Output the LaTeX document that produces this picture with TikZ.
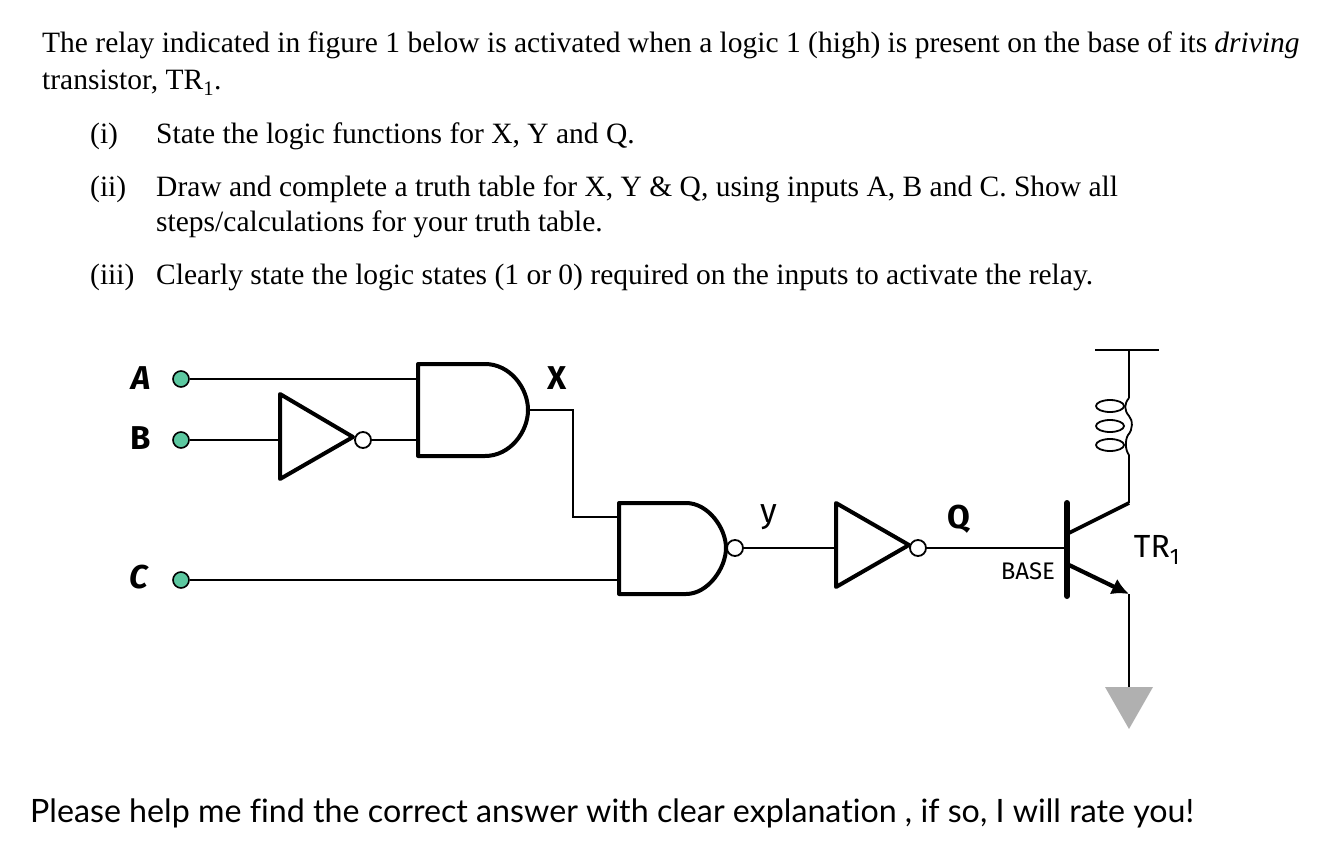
\documentclass[tikz,border=0pt]{standalone}
\usepackage{fontspec}
\setmainfont{Liberation Serif}
\newfontfamily\labelfont{Fira Sans}
\newfontfamily\askfont[Ligatures=NoCommon]{Lato}
\usetikzlibrary{arrows.meta}
\tikzset{
  para/.style={anchor=base west, inner sep=0pt, font=\fontsize{29.5}{31}\selectfont},
  ask/.style={anchor=base west, inner sep=0pt, font=\askfont\fontsize{32.2}{34}\selectfont},
  sig/.style={inner sep=0pt, font=\labelfont\bfseries\fontsize{33}{35}\selectfont},
  term/.style={circle, draw, line width=1.6pt, fill=termgreen, minimum size=16pt, inner sep=0pt},
  bubble/.style={circle, draw, line width=1.8pt, fill=white, minimum size=16pt, inner sep=0pt},
  wire/.style={line width=1.9pt},
  gate/.style={line width=4pt, line join=round}
}
\definecolor{termgreen}{HTML}{5CC8A0}
\definecolor{gndgrey}{HTML}{B0B0B0}
\begin{document}
\begin{tikzpicture}[x=1pt,y=-1pt]
\useasboundingbox (0,0) rectangle (1336,864);
% question text
\node[para] (l1) at (42,53) {The relay indicated in figure 1 below is activated when a logic 1 (high) is present on the base of its \emph{driving}};
\node[para] (l2) at (42,90) {transistor, TR\textsubscript{1}.};
\node[para] (n1) at (90,143) {(i)};
\node[para] (q1) at (156,143) {State the logic functions for X, Y and Q.};
\node[para] (n2) at (90,196) {(ii)};
\node[para] (q2a) at (156,196) {Draw and complete a truth table for X, Y \& Q, using inputs A, B and C. Show all};
\node[para] (q2b) at (156,231) {steps/calculations for your truth table.};
\node[para] (n3) at (90,284) {(iii)};
\node[para] (q3) at (156,284) {Clearly state the logic states (1 or 0) required on the inputs to activate the relay.};
\node[ask] (plea) at (30,822) {Please help me find the correct answer with clear explanation , if so, I will rate you!};
% inputs
\node[term] (tA) at (181,379) {};
\node[term] (tB) at (181,440) {};
\node[term] (tC) at (181,580) {};
\node[sig] (lA) at (141,378) {\itshape A};
\node[sig] (lB) at (141,438) {B};
\node[sig] (lC) at (139,577) {\itshape C};
% gate pins
\coordinate (and1a) at (418,379);
\coordinate (and1b) at (418,440);
\coordinate (and1x) at (528,410);
\coordinate (inv1in) at (280,440);
\coordinate (nand2a) at (619,517);
\coordinate (nand2b) at (619,580);
\coordinate (inv2in) at (836,548);
\coordinate (xbend1) at (573,410);
\coordinate (xbend2) at (573,517);
\coordinate (basept) at (1067,548);
\coordinate (railtop) at (1129,350);
\coordinate (railL) at (1095,350);
\coordinate (railR) at (1159,350);
\coordinate (coiltop) at (1129,398);
\coordinate (coilbot) at (1129,455);
\coordinate (coll) at (1129,503);
\coordinate (emit) at (1129,594);
\coordinate (gndtop) at (1129,687);
% bubbles
\node[bubble] (b1) at (363,440) {};
\node[bubble] (b2) at (735,548) {};
\node[bubble] (b3) at (918,548) {};
% wires
\draw[wire] (tA)--(and1a);
\draw[wire] (tB)--(inv1in);
\draw[wire] (b1)--(and1b);
\draw[wire] (and1x)--(xbend1)--(xbend2)--(nand2a);
\draw[wire] (tC)--(nand2b);
\draw[wire] (b2)--(inv2in);
\draw[wire] (b3)--(basept);
% gates
\draw[gate] (418,364)--(485,364) .. controls (510,364) and (528,388) .. (528,410) .. controls (528,432) and (510,456) .. (485,456)--(418,456)--cycle;
\draw[gate] (280,394)--(353,437)--(280,479)--cycle;
\draw[gate] (619,503)--(686,503) .. controls (708,503) and (726,528) .. (726,548) .. controls (726,568) and (708,594) .. (686,594)--(619,594)--cycle;
\draw[gate] (836,503)--(909,545)--(836,587)--cycle;
% transistor
\draw[line width=6pt, line cap=round] (1067,503)--(1067,596);
\draw[line width=3.6pt] (1069,533)--(coll);
\draw[line width=4.2pt, -{Latex[length=17pt,width=17pt]}] (1069,565)--(emit);
% relay coil
\draw[wire] (railL)--(railR);
\draw[wire] (railtop)--(coiltop);
\draw[wire] (coilbot)--(coll);
\draw[wire] (emit)--(gndtop);
\foreach \yy in {406,426,445}{
  \draw[line width=1.8pt] (1110,\yy) ellipse (14pt and 6pt);
}
\draw[line width=1.8pt] (coiltop) .. controls (1124,404) and (1124,410) .. (1129,416) .. controls (1133,420) and (1133,430) .. (1128,435) .. controls (1125,440) and (1125,450) .. (coilbot);
% ground
\fill[gndgrey] (1105,687)--(1153,687)--(1129,729)--cycle;
% signal labels
\node[sig] (lX) at (557,378) {X};
\node[sig, font=\labelfont\fontsize{34}{36}\selectfont] (lY) at (769,517) {y};
\node[sig] (lQ) at (959,519) {Q};
\node[sig, font=\labelfont\fontsize{24}{26}\selectfont] (lBase) at (1028,571) {BASE};
\node[sig, font=\labelfont\fontsize{32}{34}\selectfont] (lTR) at (1157,550) {TR\textsubscript{1}};
\end{tikzpicture}
\end{document}
